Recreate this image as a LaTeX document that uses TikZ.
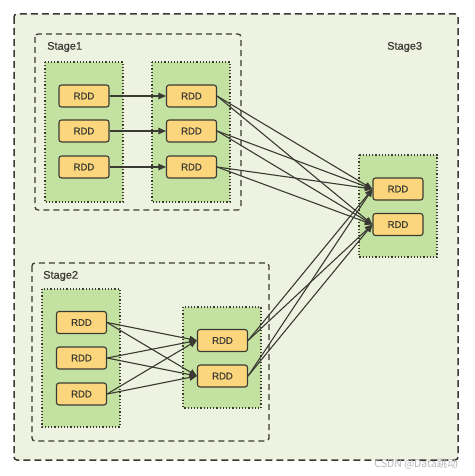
\documentclass[tikz,border=0pt]{standalone}
\usepackage{fontspec}
\setmainfont{Liberation Sans}[FakeBold=0.7]
\newfontfamily\lblfont{Liberation Sans}[FakeBold=0.6]
\newfontfamily\cjkfont{Noto Sans CJK SC}
\usetikzlibrary{arrows.meta}
\definecolor{bgc}{HTML}{EEF2E1}
\definecolor{grn}{HTML}{C3E2A2}
\definecolor{rddc}{HTML}{FCD67C}
\definecolor{ink}{HTML}{3A3A33}
\tikzset{
  rdd/.style={draw=ink, line width=1.1pt, fill=rddc, rounded corners=2.5pt,
    minimum width=50pt, minimum height=22pt, inner sep=0pt, font=\fontsize{9.5}{10}\selectfont, text=ink},
  grp/.style={draw=ink, line width=1.2pt, dotted, fill=grn},
  stagebox/.style={draw=ink, line width=1.3pt, dash pattern=on 6pt off 4pt, rounded corners=3pt},
  outerbox/.style={draw=ink, line width=1.5pt, dash pattern=on 7pt off 4pt, fill=bgc, rounded corners=3pt},
  lbl/.style={font=\lblfont\fontsize{11}{12}\selectfont, text=ink, inner sep=0pt},
  link/.style={draw=ink, line width=1.1pt, -{Triangle[length=7.5pt,width=6.5pt]}},
}
\begin{document}
\begin{tikzpicture}[x=1pt,y=-1pt]
\useasboundingbox (0,0) rectangle (474,476);
\fill[white] (0,0) rectangle (474,476);
\draw[outerbox] (14,14) rectangle (458,460);
% Stage1
\draw[stagebox] (35,34) rectangle (241,210);
\node[lbl, anchor=west] (s1) at (47,47) {Stage1};
\draw[grp] (45,62) rectangle (123,202);
\draw[grp] (152,62) rectangle (230,202);
\node[rdd] (a1) at (84,96) {RDD};
\node[rdd] (a2) at (84,131) {RDD};
\node[rdd] (a3) at (84,167) {RDD};
\node[rdd] (b1) at (191.5,96) {RDD};
\node[rdd] (b2) at (191.5,131) {RDD};
\node[rdd] (b3) at (191.5,167) {RDD};
% Stage3
\node[lbl, anchor=west] (s3) at (387,47) {Stage3};
\draw[grp] (359,155) rectangle (437,257);
\node[rdd] (c1) at (398,189) {RDD};
\node[rdd] (c2) at (398,224.5) {RDD};
% Stage2
\draw[stagebox] (32,263) rectangle (269,441);
\node[lbl, anchor=west] (s2) at (43,276) {Stage2};
\draw[grp] (42,289) rectangle (120,427);
\draw[grp] (183,307) rectangle (261,408);
\node[rdd] (d1) at (81.5,322.5) {RDD};
\node[rdd] (d2) at (81.5,358) {RDD};
\node[rdd] (d3) at (81.5,394) {RDD};
\node[rdd] (e1) at (222.5,340.5) {RDD};
\node[rdd] (e2) at (222.5,376) {RDD};
% links
\foreach \i in {1,2,3}{
  \draw[link] (a\i.east) -- (b\i.west);
  \draw[link] (b\i.east) -- (c1.west);
  \draw[link] (b\i.east) -- (c2.west);
  \draw[link] (d\i.east) -- (e1.west);
  \draw[link] (d\i.east) -- (e2.west);
}
\foreach \i in {1,2}{
  \draw[link] (e\i.east) -- (c1.west);
  \draw[link] (e\i.east) -- (c2.west);
}
\node[anchor=east, inner sep=0pt, text=gray!55, font=\cjkfont\fontsize{10.5}{12}\selectfont] (wm) at (458,464) {CSDN @Data跳动};
\end{tikzpicture}
\end{document}
